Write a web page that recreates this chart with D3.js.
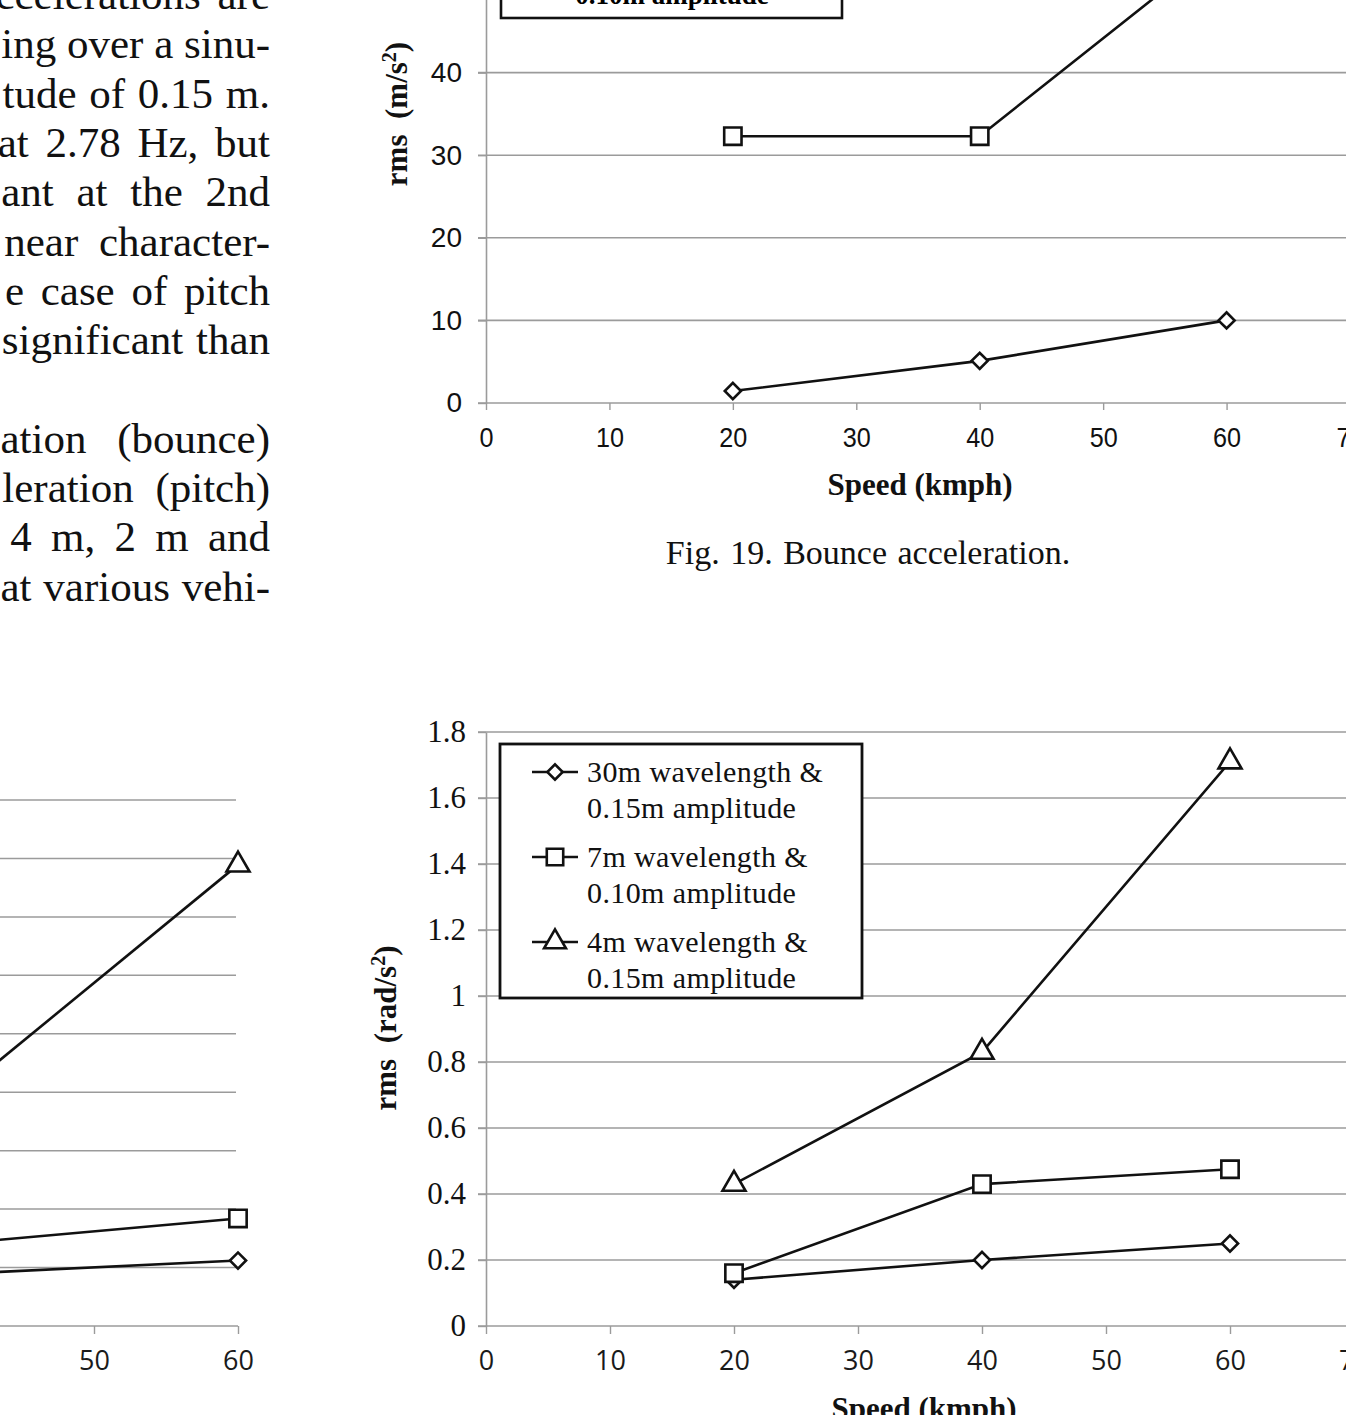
<!DOCTYPE html>
<html>
<head>
<meta charset="utf-8">
<script src="https://cdn.jsdelivr.net/npm/d3@7"></script>
<style>
  body { margin: 0; background: #fff; }
  svg { display: block; }
</style>
</head>
<body>
<svg id="page" width="1346" height="1415"></svg>
<script>
// ---- data ----
const speeds = [20, 40, 60];

// Fig. 19 bounce acceleration, rms (m/s^2)
const bounce30m = [1.45, 5.1, 10.0];
const bounce7m = [32.3, 32.3, 56];

// partial figure at bottom left, only 40 and 60 km/h are in view
const leftSpeeds = [40, 60];
const left30m = [0.177, 0.224];
const left7m = [0.28, 0.368];
const left4m = [0.77, 1.578];

// pitch acceleration, rms (rad/s^2)
const pitch30m = [0.14, 0.20, 0.25];
const pitch7m = [0.16, 0.43, 0.475];
const pitch4m = [0.43, 0.83, 1.71];

const xTicks = [0, 10, 20, 30, 40, 50, 60, 70];
const bounceTicks = [0, 10, 20, 30, 40, 50];
const pitchTicks = [0, 0.2, 0.4, 0.6, 0.8, 1, 1.2, 1.4, 1.6, 1.8];
const leftXTicks = [50, 60];

const legendLabels = [
  ["30m wavelength &", "0.15m amplitude"],
  ["7m wavelength &", "0.10m amplitude"],
  ["4m wavelength &", "0.15m amplitude"]
];
const markers = ["diamond", "square", "triangle"];

const bodyLines = [
  "ccelerations are", "ing over a sinu-", "tude of 0.15 m.", "at 2.78 Hz, but",
  "ant at the 2nd", "near character-", "e case of pitch", "significant than",
  "", "ation (bounce)", "leration (pitch)", "4 m, 2 m and", "at various vehi-"
];
const bodyGaps = [6, 0, 2, 6, 12, 10, 6, 2, 0, 20, 11, 8.5, 1];

const svg = d3.select("#page");
svg.append("rect").attr("width", 1346).attr("height", 1415).attr("fill", "#fff");

const SERIF = "'Liberation Serif', 'Times New Roman', serif";
const NARROW = "'Liberation Sans', Arial, sans-serif";
const SANS = "'Open Sans', 'DejaVu Sans', sans-serif";
const GRID = "#9b9b9b";

// ---- body text column ----
svg.append("g").selectAll("text").data(bodyLines).join("text")
  .attr("x", 270)
  .attr("y", (d, i) => 9 + i * 49.3)
  .attr("text-anchor", "end")
  .attr("font-family", SERIF)
  .attr("font-size", 43)
  .attr("word-spacing", (d, i) => bodyGaps[i])
  .attr("fill", "#111")
  .text(d => d);

function marker(g, type, size) {
  const sym = type === "triangle" ? d3.symbolTriangle : d3.symbolSquare;
  const p = g.append("path")
    .attr("d", d3.symbol(sym, size)())
    .attr("fill", "#fff").attr("stroke", "#111").attr("stroke-width", 2.6);
  if (type === "diamond") p.attr("transform", "rotate(45)");
  return p;
}
const markerSize = { diamond: 130, square: 300, triangle: 230 };

function series(g, x, y, xs, ys, type) {
  const line = d3.line().x((d, i) => x(xs[i])).y(d => y(d));
  g.append("path").datum(ys).attr("d", line)
    .attr("fill", "none").attr("stroke", "#111").attr("stroke-width", 2.6);
  ys.forEach((v, i) => {
    const m = g.append("g").attr("transform", `translate(${x(xs[i])},${y(v)})`);
    marker(m, type, markerSize[type]);
  });
}

// ---- top chart: Fig. 19 ----
{
  const x = d3.scaleLinear().domain([0, 70]).range([486, 1350]);
  const y = d3.scaleLinear().domain([0, 50]).range([403, -10]);
  const g = svg.append("g");

  g.append("g").selectAll("line").data(bounceTicks.slice(1)).join("line")
    .attr("x1", 478).attr("x2", 1346).attr("y1", d => y(d)).attr("y2", d => y(d))
    .attr("stroke", GRID).attr("stroke-width", 1.6);

  const xAxis = g.append("g").attr("transform", `translate(0,${y(0)})`)
    .call(d3.axisBottom(x).tickValues(xTicks).tickSize(7).tickSizeOuter(0).tickPadding(17));
  xAxis.select(".domain").attr("stroke", GRID).attr("stroke-width", 1.6).attr("d", "M478,0H1346");
  xAxis.selectAll(".tick line").attr("stroke", GRID).attr("stroke-width", 1.4);
  xAxis.selectAll("text").attr("font-family", NARROW).attr("font-size", 28)
    .attr("fill", "#111").attr("transform", "scale(0.9,1)");

  const yAxis = g.append("g").attr("transform", `translate(${x(0)},0)`)
    .call(d3.axisLeft(y).tickValues(bounceTicks).tickSize(8).tickSizeOuter(0).tickPadding(16));
  yAxis.select(".domain").attr("stroke", GRID).attr("stroke-width", 1.6);
  yAxis.selectAll(".tick line").attr("stroke", GRID).attr("stroke-width", 1.4);
  yAxis.selectAll("text").attr("font-family", NARROW).attr("font-size", 28).attr("fill", "#111");

  series(g, x, y, speeds, bounce30m, "diamond");
  series(g, x, y, speeds, bounce7m, "square");

  // legend box, mostly above the page edge
  g.append("rect").attr("x", 501).attr("y", -200).attr("width", 341).attr("height", 218)
    .attr("fill", "#fff").attr("stroke", "#111").attr("stroke-width", 2.6);
  g.append("text").attr("x", 672).attr("y", 4).attr("text-anchor", "middle")
    .attr("font-family", SERIF).attr("font-weight", "bold").attr("font-size", 27)
    .text("0.10m amplitude");

  g.append("text")
    .attr("transform", `translate(407,114) rotate(-90)`)
    .attr("text-anchor", "middle").attr("font-family", SERIF).attr("font-weight", "bold")
    .attr("font-size", 31).attr("fill", "#111")
    .html("rms&#160;&#160;(m/s<tspan dy='-11' font-size='20'>2</tspan><tspan dy='11'>)</tspan>");

  g.append("text").attr("x", 920).attr("y", 495).attr("text-anchor", "middle")
    .attr("font-family", SERIF).attr("font-weight", "bold").attr("font-size", 31)
    .attr("fill", "#111").text("Speed (kmph)");

  g.append("text").attr("x", 868).attr("y", 564).attr("text-anchor", "middle")
    .attr("font-family", SERIF).attr("font-size", 34).attr("fill", "#111")
    .attr("word-spacing", 2)
    .text("Fig. 19.  Bounce acceleration.");
}

// ---- bottom-left partial chart ----
{
  const x = d3.scaleLinear().domain([0, 60]).range([-626, 238]);
  const y = d3.scaleLinear().domain([0, 1.8]).range([1326, 800]);
  const g = svg.append("g");

  g.append("g").selectAll("line").data(pitchTicks.slice(1)).join("line")
    .attr("x1", 0).attr("x2", 236).attr("y1", d => y(d)).attr("y2", d => y(d))
    .attr("stroke", GRID).attr("stroke-width", 1.5);

  const xAxis = g.append("g").attr("transform", `translate(0,${y(0)})`)
    .call(d3.axisBottom(x).tickValues(leftXTicks).tickSize(8).tickSizeOuter(0).tickPadding(17));
  xAxis.select(".domain").attr("stroke", GRID).attr("stroke-width", 1.6).attr("d", "M0,0H238");
  xAxis.selectAll(".tick line").attr("stroke", GRID).attr("stroke-width", 1.4);
  xAxis.selectAll("text").attr("font-family", SANS).attr("font-size", 27).attr("fill", "#1a1a1a");

  series(g, x, y, leftSpeeds, left30m, "diamond");
  series(g, x, y, leftSpeeds, left7m, "square");
  series(g, x, y, leftSpeeds, left4m, "triangle");
}

// ---- bottom-right chart: pitch acceleration ----
{
  const x = d3.scaleLinear().domain([0, 70]).range([486, 1354]);
  const y = d3.scaleLinear().domain([0, 1.8]).range([1326, 732]);
  const g = svg.append("g");

  g.append("g").selectAll("line").data(pitchTicks.slice(1)).join("line")
    .attr("x1", 478).attr("x2", 1346).attr("y1", d => y(d)).attr("y2", d => y(d))
    .attr("stroke", GRID).attr("stroke-width", 1.5);

  const xAxis = g.append("g").attr("transform", `translate(0,${y(0)})`)
    .call(d3.axisBottom(x).tickValues(xTicks).tickSize(8).tickSizeOuter(0).tickPadding(17));
  xAxis.select(".domain").attr("stroke", GRID).attr("stroke-width", 1.6).attr("d", "M478,0H1346");
  xAxis.selectAll(".tick line").attr("stroke", GRID).attr("stroke-width", 1.4);
  xAxis.selectAll("text").attr("font-family", SANS).attr("font-size", 27).attr("fill", "#1a1a1a");

  const yAxis = g.append("g").attr("transform", `translate(${x(0)},0)`)
    .call(d3.axisLeft(y).tickValues(pitchTicks).tickFormat(d3.format("~g"))
      .tickSize(8).tickSizeOuter(0).tickPadding(12));
  yAxis.select(".domain").attr("stroke", GRID).attr("stroke-width", 1.6);
  yAxis.selectAll(".tick line").attr("stroke", GRID).attr("stroke-width", 1.4);
  yAxis.selectAll("text").attr("font-family", SERIF).attr("font-size", 31).attr("fill", "#111");

  series(g, x, y, speeds, pitch30m, "diamond");
  series(g, x, y, speeds, pitch7m, "square");
  series(g, x, y, speeds, pitch4m, "triangle");

  // legend
  const lg = g.append("g");
  lg.append("rect").attr("x", 500).attr("y", 744).attr("width", 362).attr("height", 254)
    .attr("fill", "#fff").attr("stroke", "#111").attr("stroke-width", 2.8);
  legendLabels.forEach((lines, i) => {
    const cy = 772 + i * 85;
    lg.append("line").attr("x1", 532).attr("x2", 578).attr("y1", cy).attr("y2", cy)
      .attr("stroke", "#111").attr("stroke-width", 2.6);
    const m = lg.append("g").attr("transform", `translate(555,${cy})`);
    marker(m, markers[i], markerSize[markers[i]] * 0.9);
    lines.forEach((t, j) => {
      lg.append("text").attr("x", 587).attr("y", cy + 10 + j * 36)
        .attr("font-family", SERIF).attr("font-size", 30).attr("fill", "#111")
        .attr("letter-spacing", 0.4).text(t);
    });
  });

  g.append("text")
    .attr("transform", `translate(396,1028) rotate(-90)`)
    .attr("text-anchor", "middle").attr("font-family", SERIF).attr("font-weight", "bold")
    .attr("font-size", 31).attr("fill", "#111")
    .html("rms&#160;&#160;(rad/s<tspan dy='-11' font-size='20'>2</tspan><tspan dy='11'>)</tspan>");

  g.append("text").attr("x", 924).attr("y", 1419).attr("text-anchor", "middle")
    .attr("font-family", SERIF).attr("font-weight", "bold").attr("font-size", 31)
    .attr("fill", "#111").text("Speed (kmph)");
}
</script>
</body>
</html>
